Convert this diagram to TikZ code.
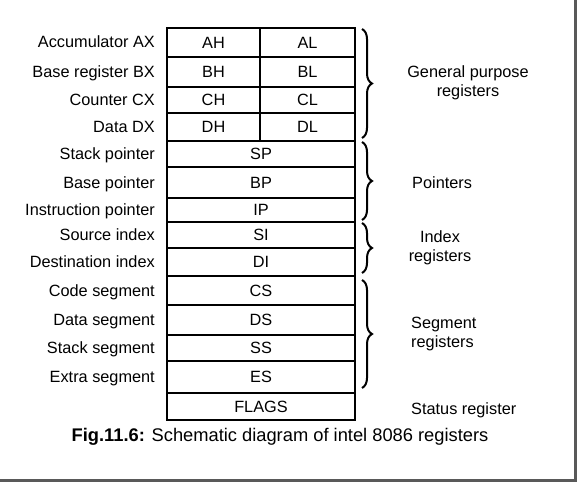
\documentclass[tikz,border=0pt]{standalone}
\usepackage{fontspec}
\setmainfont{Liberation Sans}
\usetikzlibrary{decorations.pathreplacing}
\begin{document}
\begin{tikzpicture}[x=1pt,y=-1pt,
  txt/.style={font=\fontsize{16.3}{19}\selectfont},
  cell/.style={txt,draw,line width=2pt,inner sep=0pt,anchor=north west},
  lbl/.style={txt,anchor=base east,inner sep=0pt},
  grp/.style={txt,inner sep=0pt,align=center},
  grpw/.style={txt,inner sep=0pt,align=left,anchor=west},
  brc/.style={decorate,decoration={brace,amplitude=10pt},line width=2pt},
  shadow/.style={line width=3pt,black!65}]
\useasboundingbox (0,0) rectangle (578,484);
% split registers
\foreach \h/\l/\t/\b/\lab in {AH/AL/27/56/Accumulator AX, BH/BL/56/86/Base register BX, CH/CL/86/112/Counter CX, DH/DL/112/140/Data DX}{
  \node[cell,minimum width=93pt,minimum height={(\b-\t)*1pt}] (\h) at (166,\t) {\h};
  \node[cell,minimum width=95pt,minimum height={(\b-\t)*1pt}] (\l) at (259,\t) {\l};
  \node[lbl] (lab\h) at (155,{(\t+\b)/2+6.5}) {\lab};
}
% full registers
\foreach \n/\t/\b/\lab in {SP/140/166/Stack pointer, BP/166/197/Base pointer, IP/197/221/Instruction pointer, SI/221/247/Source index, DI/247/275/Destination index, CS/275/304/Code segment, DS/304/334/Data segment, SS/334/360/Stack segment, ES/360/392/Extra segment}{
  \node[cell,minimum width=188pt,minimum height={(\b-\t)*1pt}] (\n) at (166,\t) {\n};
  \node[lbl] (lab\n) at (155,{(\t+\b)/2+6.5}) {\lab};
}
\node[cell,minimum width=188pt,minimum height=27pt] (FLAGS) at (166,392) {FLAGS};
% braces
\draw[brc] (362,29) -- (362,138);
\draw[brc] (362,142) -- (362,220);
\draw[brc] (362,223) -- (362,273);
\draw[brc] (362,280) -- (362,388);
% group labels
\node[grp] (gGP) at (468,82.5) {General purpose\\registers};
\node[grpw] (gP) at (412,183) {Pointers};
\node[grp] (gI) at (440,247.5) {Index\\registers};
\node[grpw] (gS) at (411,333.5) {Segment\\registers};
\node[grpw] (gF) at (411,410) {Status register};
% caption
\node[font=\fontsize{18.3}{21}\selectfont,inner sep=0pt] (cap) at (280,437) {\textbf{Fig.11.6:} Schematic diagram of intel 8086 registers};
% frame shadow
\draw[shadow] (575.5,0) -- (575.5,480.5) -- (0,480.5);
\end{tikzpicture}
\end{document}
